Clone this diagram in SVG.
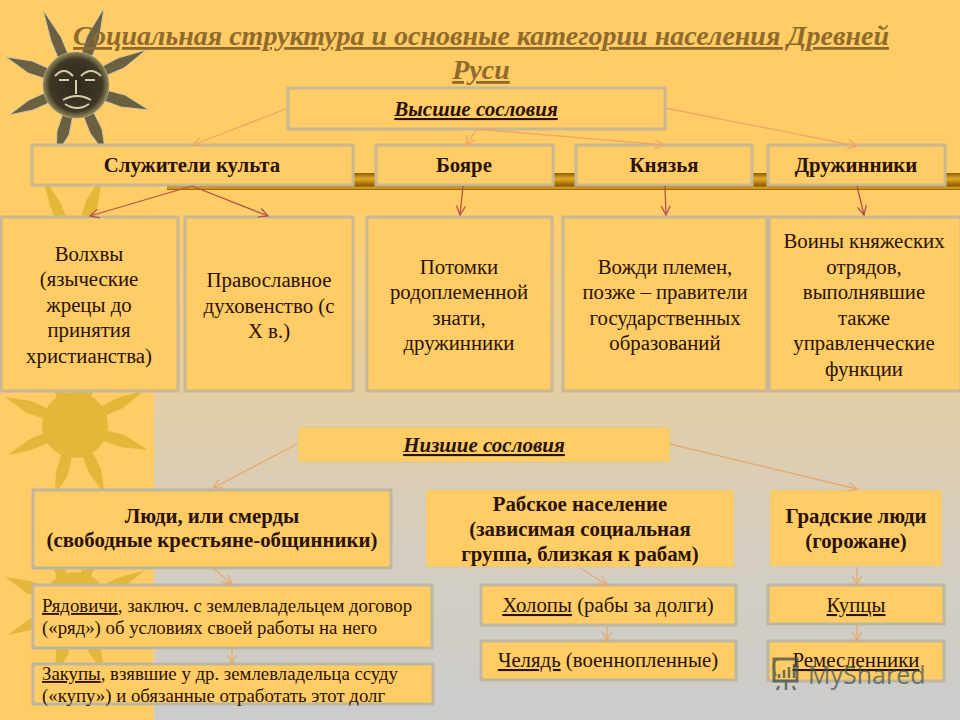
<svg xmlns="http://www.w3.org/2000/svg" width="960" height="720" viewBox="0 0 960 720">
<style>
text{font-family:"Liberation Serif","Times New Roman",serif;fill:#2a1208;text-anchor:middle}
.box{fill:#FFCC66;stroke:#C8B896;stroke-width:3}
.low{fill:#FFCC66;stroke:#BDB6A0;stroke-width:3}
.plain{fill:#FFCC66;stroke:#D6C7A0;stroke-width:1}
.h{font-size:20.8px;font-weight:bold}
.b{font-size:20.8px}
.s{font-size:18.8px;text-anchor:start}
.hd{font-size:21px;font-weight:bold;font-style:italic}
.t{font-size:28px;font-weight:bold;font-style:italic;text-decoration:underline}
.u{text-decoration:underline}
.cO{fill:none;stroke:#E9A96B;stroke-width:1.3;marker-end:url(#aO)}
.cR{fill:none;stroke:#B5524A;stroke-width:1.3;marker-end:url(#aR)}
</style>
<defs>
<linearGradient id="bg" x1="0" y1="0" x2="0" y2="1">
<stop offset="0" stop-color="#FFCC66"/><stop offset="0.3" stop-color="#FFCE6C"/><stop offset="0.54" stop-color="#E3CEA6"/><stop offset="0.78" stop-color="#D4CEC2"/><stop offset="1" stop-color="#CCCCCC"/>
</linearGradient>
<linearGradient id="gold" x1="0" y1="0" x2="0" y2="1">
<stop offset="0" stop-color="#8f5f08"/><stop offset="0.45" stop-color="#E2A921"/><stop offset="1" stop-color="#8a5a04"/>
</linearGradient>
<radialGradient id="metal" cx="0.5" cy="0.5" r="0.55">
<stop offset="0" stop-color="#2e2a1c"/><stop offset="0.72" stop-color="#3d3724"/><stop offset="0.9" stop-color="#8d8258"/><stop offset="1" stop-color="#5f5535"/>
</radialGradient>
<marker id="aO" markerWidth="12" markerHeight="12" refX="10" refY="6" orient="auto" markerUnits="userSpaceOnUse"><path d="M1 1.5L10 6L1 10.5" fill="none" stroke="#E9A96B" stroke-width="1.3"/></marker>
<marker id="aR" markerWidth="12" markerHeight="12" refX="10" refY="6" orient="auto" markerUnits="userSpaceOnUse"><path d="M1 1.5L10 6L1 10.5" fill="none" stroke="#B5524A" stroke-width="1.3"/></marker>
<g id="sun" stroke-linejoin="round">
<path d="M-7-29L-15-48L-33-75L-25-44L-17-25ZM15-26L23-45L28-77L11-49L5-30ZM29-9L48-17L70-35L42-27L25-18ZM26 15L45 22L73 25L49 10L30 5ZM7 30L14 48L30 70L26 44L17 26ZM-13 28L-19 46L-20 70L-7 50L-3 30ZM-29 7L-47 15L-67 30L-43 25L-25 17ZM-26-16L-44-24L-70-28L-48-12L-30-6Z"/>
<circle r="33"/>
</g>
</defs>
<rect width="960" height="720" fill="url(#bg)"/>
<rect width="154" height="720" fill="#FFCC66"/>
<rect x="154" y="0" width="806" height="210" fill="#FFCC66"/>
<g id="decor">
<use href="#sun" x="75" y="250" fill="#E3B83A"/>
<use href="#sun" x="75" y="425" fill="#E3B83A"/>
<use href="#sun" x="75" y="605" fill="#E3B83A"/>
<use href="#sun" x="76" y="85" fill="#6b6142" stroke="#cfc7a6" stroke-width="1"/>
<circle cx="76" cy="85" r="33" fill="url(#metal)"/>
<path d="M55 76Q64 66 73 76M81 76Q91 66 101 76M59 80h10M85 80h10M76 80v14M63 100Q77 92 91 100M65 104Q77 112 89 104" fill="none" stroke="#d4cdaa" stroke-width="2"/>
<rect x="167" y="186" width="793" height="4" fill="url(#gold)"/>
<rect x="353" y="173" width="23" height="13" fill="url(#gold)"/>
<rect x="553" y="173" width="23" height="13" fill="url(#gold)"/>
<rect x="752" y="173" width="16" height="13" fill="url(#gold)"/>
<rect x="945" y="173" width="15" height="13" fill="url(#gold)"/>
</g>
<g id="title">
<text class="t" x="481" y="45" style="fill:#8f6a2c">Социальная структура и основные категории населения Древней</text>
<text class="t" x="481" y="79" style="fill:#8f6a2c">Руси</text>
</g>
<g id="n-high"><rect class="box" x="288" y="88" width="377" height="41"/><text class="hd" x="476" y="116"><tspan class="u">Высшие сословия</tspan></text></g>
<g id="n-cult"><rect class="box" x="32" y="145" width="321" height="40"/><text class="h" x="192" y="172">Служители культа</text></g>
<g id="n-boyars"><rect class="box" x="376" y="145" width="177" height="40"/><text class="h" x="464" y="172">Бояре</text></g>
<g id="n-princes"><rect class="box" x="576" y="145" width="176" height="40"/><text class="h" x="664" y="172">Князья</text></g>
<g id="n-guard"><rect class="box" x="768" y="145" width="177" height="40"/><text class="h" x="856" y="172">Дружинники</text></g>
<g id="n-volkhvy"><rect class="box" x="1" y="217" width="177" height="174"/><text class="b" x="89" y="261">Волхвы</text><text class="b" x="89" y="286">(языческие</text><text class="b" x="89" y="312">жрецы до</text><text class="b" x="89" y="337">принятия</text><text class="b" x="89" y="363">христианства)</text></g>
<g id="n-clergy"><rect class="box" x="185" y="217" width="168" height="174"/><text class="b" x="269" y="287">Православное</text><text class="b" x="269" y="313">духовенство (с</text><text class="b" x="269" y="338">X в.)</text></g>
<g id="n-descend"><rect class="box" x="367" y="217" width="185" height="174"/><text class="b" x="459" y="274">Потомки</text><text class="b" x="459" y="299">родоплеменной</text><text class="b" x="459" y="325">знати,</text><text class="b" x="459" y="350">дружинники</text></g>
<g id="n-chiefs"><rect class="box" x="563" y="217" width="204" height="174"/><text class="b" x="665" y="274">Вожди племен,</text><text class="b" x="665" y="299">позже – правители</text><text class="b" x="665" y="325">государственных</text><text class="b" x="665" y="350">образований</text></g>
<g id="n-warriors"><rect class="box" x="769" y="217" width="192" height="174"/><text class="b" x="864" y="248">Воины княжеских</text><text class="b" x="864" y="274">отрядов,</text><text class="b" x="864" y="299">выполнявшие</text><text class="b" x="864" y="325">также</text><text class="b" x="864" y="350">управленческие</text><text class="b" x="864" y="376">функции</text></g>
<g id="n-lower"><rect class="plain" x="298" y="427" width="372" height="35"/><text class="hd" x="484" y="452"><tspan class="u">Низшие сословия</tspan></text></g>
<g id="n-people"><rect class="low" x="33" y="490" width="358" height="78"/><text class="h" x="212" y="523">Люди, или смерды</text><text class="h" x="212" y="547">(свободные крестьяне-общинники)</text></g>
<g id="n-slaves"><rect class="plain" x="426" y="490" width="308" height="77"/><text class="h" x="580" y="511">Рабское население</text><text class="h" x="580" y="536">(зависимая социальная</text><text class="h" x="580" y="561">группа, близкая к рабам)</text></g>
<g id="n-town"><rect class="plain" x="770" y="490" width="172" height="76"/><text class="h" x="856" y="523">Градские люди</text><text class="h" x="856" y="548">(горожане)</text></g>
<g id="n-ryad"><rect class="low" x="33" y="585" width="399" height="63"/><text class="s" x="42" y="612"><tspan class="u">Рядовичи</tspan>, заключ. с землевладельцем договор</text><text class="s" x="42" y="634">(«ряд») об условиях  своей работы на него</text></g>
<g id="n-zakup"><rect class="low" x="33" y="664" width="400" height="40"/><text class="s" x="42" y="680"><tspan class="u">Закупы</tspan>, взявшие у др. землевладельца ссуду</text><text class="s" x="42" y="702">(«купу») и обязанные отработать этот долг</text></g>
<g id="n-kholop"><rect class="low" x="481" y="585" width="255" height="40"/><text class="b" x="608" y="612"><tspan class="u">Холопы</tspan> (рабы за долги)</text></g>
<g id="n-chelyad"><rect class="low" x="481" y="641" width="255" height="39"/><text class="b" x="608" y="667"><tspan class="u">Челядь</tspan> (военнопленные)</text></g>
<g id="n-merchant"><rect class="low" x="768" y="585" width="176" height="39"/><text class="b" x="856" y="612"><tspan class="u">Купцы</tspan></text></g>
<g id="n-craft"><rect class="low" x="768" y="641" width="176" height="40"/><text class="b" x="856" y="667"><tspan class="u">Ремесленники</tspan></text></g>
<g id="connectors">
<path class="cO" d="M288 108L193 145"/>
<path class="cO" d="M665 108L857 146"/>
<path class="cO" d="M477 129L466 145"/>
<path class="cO" d="M477 129L664 145"/>
<path class="cR" d="M192 186L90 216"/>
<path class="cR" d="M192 186L268 216"/>
<path class="cR" d="M463 186L460 215"/>
<path class="cR" d="M665 186L666 215"/>
<path class="cR" d="M857 186L864 215"/>
<path class="cO" d="M297 444L213 488"/>
<path class="cO" d="M670 444L857 489"/>
<path class="cO" d="M213 568L232 584"/>
<path class="cO" d="M580 568L607 585"/>
<path class="cO" d="M232 648L232 664"/>
<path class="cO" d="M857 567L857 585"/>
<path class="cO" d="M607 625L607 641"/>
<path class="cO" d="M857 624L857 641"/>
</g>
<g id="watermark" opacity="0.75">
<path d="M776 676Q770 662 778 659h4M774 659h18" fill="none" stroke="#4d5a3c" stroke-width="2"/>
<rect x="774" y="659" width="23" height="22" fill="none" stroke="#3f5048" stroke-width="3"/>
<path d="M779 678v-4M784 678v-8M789 678v-11M794 678v-14M779 686l-2 4M786 682v8M793 686l2 4" stroke="#3f5048" stroke-width="2.5" fill="none"/>
<text x="808" y="684" font-size="25" style="fill:#45595a;text-anchor:start;font-family:'Open Sans','Liberation Sans',sans-serif">MyShared</text>
</g>
</svg>
